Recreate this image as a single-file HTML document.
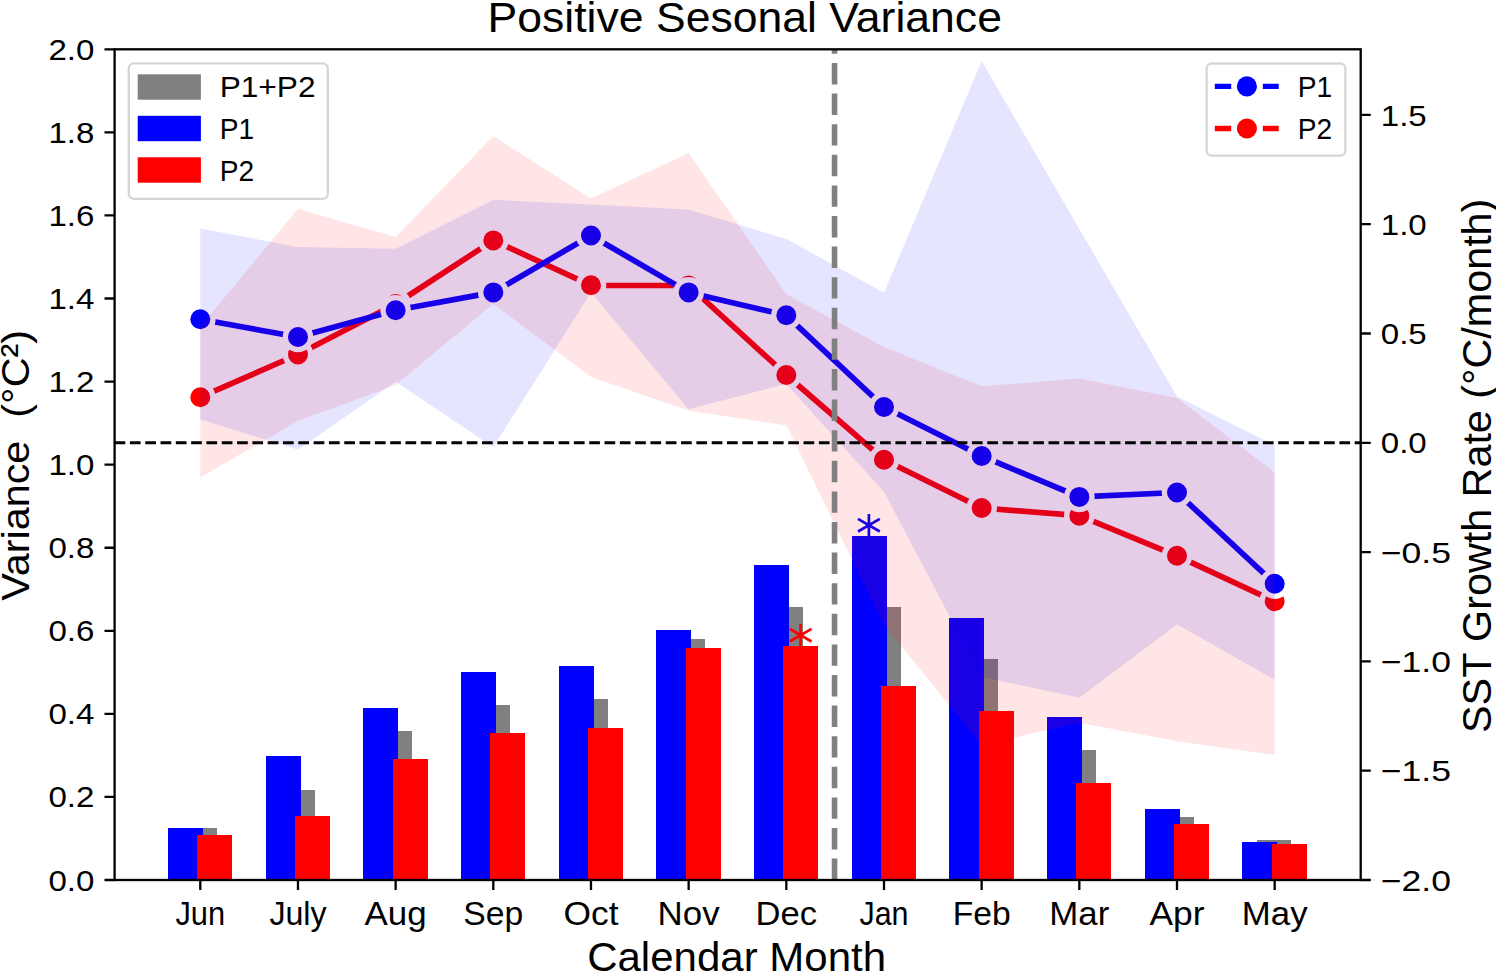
<!DOCTYPE html><html><head><meta charset="utf-8"><title>Positive Sesonal Variance</title>
<style>html,body{margin:0;padding:0;background:#fff;}svg{display:block;}text{font-family:"Liberation Sans",sans-serif;}</style></head><body>
<svg width="1496" height="973" viewBox="0 0 1496 973">
<rect x="0" y="0" width="1496" height="973" fill="#fff"/>
<defs><clipPath id="ax"><rect x="114.6" y="49.3" width="1246.1000000000001" height="830.7"/></clipPath></defs>
<g shape-rendering="crispEdges">
<rect x="182.50" y="827.70" width="34.6" height="52.30" fill="#808080"/>
<rect x="280.17" y="789.90" width="34.6" height="90.10" fill="#808080"/>
<rect x="377.84" y="731.00" width="34.6" height="149.00" fill="#808080"/>
<rect x="475.51" y="705.00" width="34.6" height="175.00" fill="#808080"/>
<rect x="573.18" y="698.80" width="34.6" height="181.20" fill="#808080"/>
<rect x="670.85" y="639.00" width="34.6" height="241.00" fill="#808080"/>
<rect x="768.52" y="607.10" width="34.6" height="272.90" fill="#808080"/>
<rect x="866.19" y="607.10" width="34.6" height="272.90" fill="#808080"/>
<rect x="963.86" y="659.20" width="34.6" height="220.80" fill="#808080"/>
<rect x="1061.53" y="750.40" width="34.6" height="129.60" fill="#808080"/>
<rect x="1159.20" y="816.70" width="34.6" height="63.30" fill="#808080"/>
<rect x="1256.87" y="839.50" width="34.6" height="40.50" fill="#808080"/>
<rect x="167.95" y="827.70" width="35.0" height="52.30" fill="#0000ff"/>
<rect x="265.62" y="755.80" width="35.0" height="124.20" fill="#0000ff"/>
<rect x="363.29" y="707.50" width="35.0" height="172.50" fill="#0000ff"/>
<rect x="460.96" y="672.30" width="35.0" height="207.70" fill="#0000ff"/>
<rect x="558.63" y="666.20" width="35.0" height="213.80" fill="#0000ff"/>
<rect x="656.30" y="630.40" width="35.0" height="249.60" fill="#0000ff"/>
<rect x="753.97" y="565.00" width="35.0" height="315.00" fill="#0000ff"/>
<rect x="851.64" y="536.40" width="35.0" height="343.60" fill="#0000ff"/>
<rect x="949.31" y="618.10" width="35.0" height="261.90" fill="#0000ff"/>
<rect x="1046.98" y="717.30" width="35.0" height="162.70" fill="#0000ff"/>
<rect x="1144.65" y="808.90" width="35.0" height="71.10" fill="#0000ff"/>
<rect x="1242.32" y="841.60" width="35.0" height="38.40" fill="#0000ff"/>
<rect x="197.25" y="835.30" width="35.0" height="44.70" fill="#ff0000"/>
<rect x="294.92" y="816.40" width="35.0" height="63.60" fill="#ff0000"/>
<rect x="392.59" y="758.50" width="35.0" height="121.50" fill="#ff0000"/>
<rect x="490.26" y="733.10" width="35.0" height="146.90" fill="#ff0000"/>
<rect x="587.93" y="728.00" width="35.0" height="152.00" fill="#ff0000"/>
<rect x="685.60" y="647.50" width="35.0" height="232.50" fill="#ff0000"/>
<rect x="783.27" y="646.10" width="35.0" height="233.90" fill="#ff0000"/>
<rect x="880.94" y="685.60" width="35.0" height="194.40" fill="#ff0000"/>
<rect x="978.61" y="710.50" width="35.0" height="169.50" fill="#ff0000"/>
<rect x="1076.28" y="782.70" width="35.0" height="97.30" fill="#ff0000"/>
<rect x="1173.95" y="824.20" width="35.0" height="55.80" fill="#ff0000"/>
<rect x="1271.62" y="843.60" width="35.0" height="36.40" fill="#ff0000"/>
</g>
<path d="M868.90,514.10V536.30M857.99,518.90L879.81,531.50M857.99,531.50L879.81,518.90" stroke="#0000ff" stroke-width="2.7" fill="none"/>
<path d="M800.60,624.10V646.30M789.69,628.90L811.51,641.50M789.69,641.50L811.51,628.90" stroke="#ff0000" stroke-width="2.7" fill="none"/>
<g clip-path="url(#ax)">
<polyline points="200.30,397.20 297.97,354.50 395.64,304.00 493.31,240.40 590.98,285.30 688.65,285.50 786.32,375.00 883.99,459.70 981.66,508.00 1079.33,515.70 1177.00,555.80 1274.67,601.30" fill="none" stroke="#ff0000" stroke-width="5.7" stroke-linejoin="round"/>
<circle cx="200.30" cy="397.20" r="12.65" fill="#ff0000" stroke="#fff" stroke-width="5.3"/><circle cx="297.97" cy="354.50" r="12.65" fill="#ff0000" stroke="#fff" stroke-width="5.3"/><circle cx="395.64" cy="304.00" r="12.65" fill="#ff0000" stroke="#fff" stroke-width="5.3"/><circle cx="493.31" cy="240.40" r="12.65" fill="#ff0000" stroke="#fff" stroke-width="5.3"/><circle cx="590.98" cy="285.30" r="12.65" fill="#ff0000" stroke="#fff" stroke-width="5.3"/><circle cx="688.65" cy="285.50" r="12.65" fill="#ff0000" stroke="#fff" stroke-width="5.3"/><circle cx="786.32" cy="375.00" r="12.65" fill="#ff0000" stroke="#fff" stroke-width="5.3"/><circle cx="883.99" cy="459.70" r="12.65" fill="#ff0000" stroke="#fff" stroke-width="5.3"/><circle cx="981.66" cy="508.00" r="12.65" fill="#ff0000" stroke="#fff" stroke-width="5.3"/><circle cx="1079.33" cy="515.70" r="12.65" fill="#ff0000" stroke="#fff" stroke-width="5.3"/><circle cx="1177.00" cy="555.80" r="12.65" fill="#ff0000" stroke="#fff" stroke-width="5.3"/><circle cx="1274.67" cy="601.30" r="12.65" fill="#ff0000" stroke="#fff" stroke-width="5.3"/>
<polyline points="200.30,319.30 297.97,337.00 395.64,310.20 493.31,292.40 590.98,235.50 688.65,292.40 786.32,315.30 883.99,407.00 981.66,456.00 1079.33,496.90 1177.00,492.50 1274.67,583.70" fill="none" stroke="#0000ff" stroke-width="5.7" stroke-linejoin="round"/>
<circle cx="200.30" cy="319.30" r="12.65" fill="#0000ff" stroke="#fff" stroke-width="5.3"/><circle cx="297.97" cy="337.00" r="12.65" fill="#0000ff" stroke="#fff" stroke-width="5.3"/><circle cx="395.64" cy="310.20" r="12.65" fill="#0000ff" stroke="#fff" stroke-width="5.3"/><circle cx="493.31" cy="292.40" r="12.65" fill="#0000ff" stroke="#fff" stroke-width="5.3"/><circle cx="590.98" cy="235.50" r="12.65" fill="#0000ff" stroke="#fff" stroke-width="5.3"/><circle cx="688.65" cy="292.40" r="12.65" fill="#0000ff" stroke="#fff" stroke-width="5.3"/><circle cx="786.32" cy="315.30" r="12.65" fill="#0000ff" stroke="#fff" stroke-width="5.3"/><circle cx="883.99" cy="407.00" r="12.65" fill="#0000ff" stroke="#fff" stroke-width="5.3"/><circle cx="981.66" cy="456.00" r="12.65" fill="#0000ff" stroke="#fff" stroke-width="5.3"/><circle cx="1079.33" cy="496.90" r="12.65" fill="#0000ff" stroke="#fff" stroke-width="5.3"/><circle cx="1177.00" cy="492.50" r="12.65" fill="#0000ff" stroke="#fff" stroke-width="5.3"/><circle cx="1274.67" cy="583.70" r="12.65" fill="#0000ff" stroke="#fff" stroke-width="5.3"/>
<polygon points="200.30,326.70 297.97,208.70 395.64,237.10 493.31,136.00 590.98,198.50 688.65,153.10 786.32,294.20 883.99,347.00 981.66,386.20 1079.33,378.50 1177.00,398.00 1274.67,472.40 1274.67,755.00 1177.00,741.30 1079.33,722.80 981.66,745.00 883.99,625.00 786.32,425.30 688.65,410.80 590.98,377.00 493.31,304.00 395.64,385.00 297.97,421.00 200.30,477.50" fill="#ff0000" fill-opacity="0.1"/>
<polygon points="200.30,228.40 297.97,247.00 395.64,248.80 493.31,199.80 590.98,204.60 688.65,209.40 786.32,239.00 883.99,292.80 981.66,61.00 1079.33,229.00 1177.00,396.50 1274.67,445.00 1274.67,679.70 1177.00,624.60 1079.33,697.70 981.66,677.00 883.99,492.00 786.32,384.00 688.65,409.20 590.98,292.60 493.31,447.20 395.64,381.80 297.97,449.80 200.30,419.20" fill="#0000ff" fill-opacity="0.1"/>
<line x1="114.6" y1="442.80" x2="1360.7" y2="442.80" stroke="#000" stroke-width="2.89" stroke-dasharray="10.69 4.62"/>
<line x1="834.55" y1="880.0" x2="834.55" y2="49.3" stroke="#808080" stroke-width="5.6" stroke-dasharray="21.4 9.2"/>
</g>
<rect x="114.6" y="49.3" width="1246.10" height="830.70" fill="none" stroke="#000" stroke-width="2.31" stroke-linejoin="miter" stroke-linecap="square"/>
<path d="M104.50,880.00H114.6M104.50,796.93H114.6M104.50,713.86H114.6M104.50,630.79H114.6M104.50,547.72H114.6M104.50,464.65H114.6M104.50,381.58H114.6M104.50,298.51H114.6M104.50,215.44H114.6M104.50,132.37H114.6M104.50,49.30H114.6M1360.7,880.00H1370.80M1360.7,770.70H1370.80M1360.7,661.40H1370.80M1360.7,552.10H1370.80M1360.7,442.80H1370.80M1360.7,333.50H1370.80M1360.7,224.20H1370.80M1360.7,114.90H1370.80M200.30,880.0V890.10M297.97,880.0V890.10M395.64,880.0V890.10M493.31,880.0V890.10M590.98,880.0V890.10M688.65,880.0V890.10M786.32,880.0V890.10M883.99,880.0V890.10M981.66,880.0V890.10M1079.33,880.0V890.10M1177.00,880.0V890.10M1274.67,880.0V890.10" stroke="#000" stroke-width="2.31" fill="none"/>
<text x="94.41" y="890.52" font-size="29.91" text-anchor="end" textLength="45.96" lengthAdjust="spacingAndGlyphs" fill="#000" >0.0</text>
<text x="94.41" y="807.45" font-size="29.91" text-anchor="end" textLength="45.96" lengthAdjust="spacingAndGlyphs" fill="#000" >0.2</text>
<text x="94.41" y="724.38" font-size="29.91" text-anchor="end" textLength="45.96" lengthAdjust="spacingAndGlyphs" fill="#000" >0.4</text>
<text x="94.41" y="641.31" font-size="29.91" text-anchor="end" textLength="45.96" lengthAdjust="spacingAndGlyphs" fill="#000" >0.6</text>
<text x="94.41" y="558.24" font-size="29.91" text-anchor="end" textLength="45.96" lengthAdjust="spacingAndGlyphs" fill="#000" >0.8</text>
<text x="94.41" y="475.17" font-size="29.91" text-anchor="end" textLength="45.96" lengthAdjust="spacingAndGlyphs" fill="#000" >1.0</text>
<text x="94.41" y="392.10" font-size="29.91" text-anchor="end" textLength="45.96" lengthAdjust="spacingAndGlyphs" fill="#000" >1.2</text>
<text x="94.41" y="309.03" font-size="29.91" text-anchor="end" textLength="45.96" lengthAdjust="spacingAndGlyphs" fill="#000" >1.4</text>
<text x="94.41" y="225.96" font-size="29.91" text-anchor="end" textLength="45.96" lengthAdjust="spacingAndGlyphs" fill="#000" >1.6</text>
<text x="94.41" y="142.89" font-size="29.91" text-anchor="end" textLength="45.96" lengthAdjust="spacingAndGlyphs" fill="#000" >1.8</text>
<text x="94.41" y="59.82" font-size="29.91" text-anchor="end" textLength="45.96" lengthAdjust="spacingAndGlyphs" fill="#000" >2.0</text>
<text x="1380.80" y="890.69" font-size="29.91" text-anchor="start" textLength="70.18" lengthAdjust="spacingAndGlyphs" fill="#000" >−2.0</text>
<text x="1380.80" y="781.39" font-size="29.91" text-anchor="start" textLength="70.18" lengthAdjust="spacingAndGlyphs" fill="#000" >−1.5</text>
<text x="1380.80" y="672.09" font-size="29.91" text-anchor="start" textLength="70.18" lengthAdjust="spacingAndGlyphs" fill="#000" >−1.0</text>
<text x="1380.80" y="562.79" font-size="29.91" text-anchor="start" textLength="70.18" lengthAdjust="spacingAndGlyphs" fill="#000" >−0.5</text>
<text x="1380.80" y="453.49" font-size="29.91" text-anchor="start" textLength="45.96" lengthAdjust="spacingAndGlyphs" fill="#000" >0.0</text>
<text x="1380.80" y="344.19" font-size="29.91" text-anchor="start" textLength="45.96" lengthAdjust="spacingAndGlyphs" fill="#000" >0.5</text>
<text x="1380.80" y="234.89" font-size="29.91" text-anchor="start" textLength="45.96" lengthAdjust="spacingAndGlyphs" fill="#000" >1.0</text>
<text x="1380.80" y="125.59" font-size="29.91" text-anchor="start" textLength="45.96" lengthAdjust="spacingAndGlyphs" fill="#000" >1.5</text>
<text x="200.30" y="924.80" font-size="33.71" text-anchor="middle" textLength="49.69" lengthAdjust="spacingAndGlyphs" fill="#000" >Jun</text>
<text x="297.97" y="924.80" font-size="33.71" text-anchor="middle" textLength="57.19" lengthAdjust="spacingAndGlyphs" fill="#000" >July</text>
<text x="395.64" y="924.80" font-size="33.71" text-anchor="middle" textLength="62.09" lengthAdjust="spacingAndGlyphs" fill="#000" >Aug</text>
<text x="493.31" y="924.80" font-size="33.71" text-anchor="middle" textLength="59.94" lengthAdjust="spacingAndGlyphs" fill="#000" >Sep</text>
<text x="590.98" y="924.80" font-size="33.71" text-anchor="middle" textLength="54.98" lengthAdjust="spacingAndGlyphs" fill="#000" >Oct</text>
<text x="688.65" y="924.80" font-size="33.71" text-anchor="middle" textLength="62.06" lengthAdjust="spacingAndGlyphs" fill="#000" >Nov</text>
<text x="786.32" y="924.80" font-size="33.71" text-anchor="middle" textLength="61.53" lengthAdjust="spacingAndGlyphs" fill="#000" >Dec</text>
<text x="883.99" y="924.80" font-size="33.71" text-anchor="middle" textLength="49.02" lengthAdjust="spacingAndGlyphs" fill="#000" >Jan</text>
<text x="981.66" y="924.80" font-size="33.71" text-anchor="middle" textLength="58.04" lengthAdjust="spacingAndGlyphs" fill="#000" >Feb</text>
<text x="1079.33" y="924.80" font-size="33.71" text-anchor="middle" textLength="60.00" lengthAdjust="spacingAndGlyphs" fill="#000" >Mar</text>
<text x="1177.00" y="924.80" font-size="33.71" text-anchor="middle" textLength="55.01" lengthAdjust="spacingAndGlyphs" fill="#000" >Apr</text>
<text x="1274.67" y="924.80" font-size="33.71" text-anchor="middle" textLength="65.74" lengthAdjust="spacingAndGlyphs" fill="#000" >May</text>
<text x="736.60" y="971.00" font-size="39.86" text-anchor="middle" textLength="298.87" lengthAdjust="spacingAndGlyphs" fill="#000" >Calendar Month</text>
<g transform="translate(29.4,465.4) rotate(-90)"><text x="0.00" y="0.00" font-size="39.48" text-anchor="middle" textLength="270.91" lengthAdjust="spacingAndGlyphs" fill="#000" >Variance  (°C²)</text></g>
<g transform="translate(1491.0,465.8) rotate(-90)"><text x="0.00" y="0.00" font-size="39.86" text-anchor="middle" textLength="534.22" lengthAdjust="spacingAndGlyphs" fill="#000" >SST Growth Rate (°C/month)</text></g>
<text x="744.70" y="31.80" font-size="42.93" text-anchor="middle" textLength="514.46" lengthAdjust="spacingAndGlyphs" fill="#000" >Positive Sesonal Variance</text>
<rect x="128.8" y="63.3" width="199.0" height="135.5" rx="5" ry="5" fill="#fff" fill-opacity="0.8" stroke="#d6d6d6" stroke-width="2.31"/>
<rect x="137.7" y="74.3" width="63.2" height="25.4" fill="#808080"/>
<rect x="137.7" y="115.8" width="63.2" height="25.4" fill="#0000ff"/>
<rect x="137.7" y="157.3" width="63.2" height="25.4" fill="#ff0000"/>
<text x="219.67" y="96.60" font-size="29.48" text-anchor="start" textLength="95.84" lengthAdjust="spacingAndGlyphs" fill="#000" >P1+P2</text>
<text x="219.67" y="139.00" font-size="29.48" text-anchor="start" textLength="34.38" lengthAdjust="spacingAndGlyphs" fill="#000" >P1</text>
<text x="219.67" y="181.40" font-size="29.48" text-anchor="start" textLength="34.38" lengthAdjust="spacingAndGlyphs" fill="#000" >P2</text>
<rect x="1206.6" y="63.5" width="138.8" height="92.1" rx="5" ry="5" fill="#fff" fill-opacity="0.8" stroke="#d6d6d6" stroke-width="2.31"/>
<path d="M1214.8,86.4H1231.2M1262.8,86.4H1278.7" stroke="#0000ff" stroke-width="5.3"/>
<circle cx="1246.9" cy="86.4" r="10.05" fill="#0000ff"/>
<path d="M1214.8,128.5H1231.2M1262.8,128.5H1278.7" stroke="#ff0000" stroke-width="5.3"/>
<circle cx="1246.9" cy="128.5" r="10.05" fill="#ff0000"/>
<text x="1297.87" y="96.80" font-size="29.48" text-anchor="start" textLength="34.38" lengthAdjust="spacingAndGlyphs" fill="#000" >P1</text>
<text x="1297.87" y="138.70" font-size="29.48" text-anchor="start" textLength="34.38" lengthAdjust="spacingAndGlyphs" fill="#000" >P2</text>
</svg></body></html>
